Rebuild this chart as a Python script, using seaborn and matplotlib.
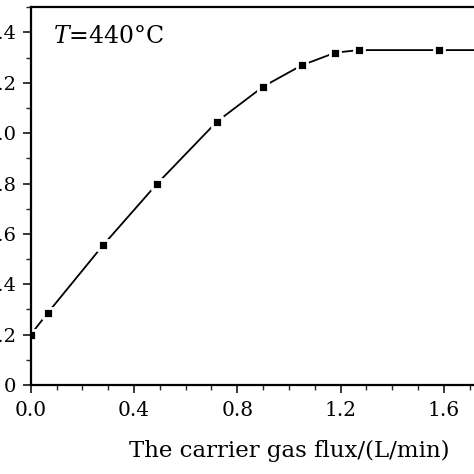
import numpy as np
import pandas as pd
import matplotlib
matplotlib.use("Agg")
import matplotlib.pyplot as plt
from matplotlib.ticker import MultipleLocator, FuncFormatter
import seaborn as sns

# dados (fluxo de gás de arraste vs. resposta)
flux = [0.0, 0.065, 0.28, 0.49, 0.72, 0.90, 1.05, 1.18, 1.27, 1.58, 1.90]
resp = [0.20, 0.285, 0.555, 0.80, 1.045, 1.185, 1.27, 1.32, 1.33, 1.33, 1.33]
x_label = "The carrier gas flux/(L/min)"
annot = r"$T$=440°C"

df = pd.DataFrame({"flux": flux, "resp": resp})

sns.set_style("ticks")
plt.rcParams["font.family"] = ["DejaVu Serif"]
plt.rcParams["mathtext.fontset"] = "dejavuserif"
plt.rcParams["text.color"] = "black"
plt.rcParams["axes.labelcolor"] = "black"

fig = plt.figure(figsize=(4.74, 4.74), dpi=100)
ax = fig.add_axes([0.0648, 0.1878, 1.0897, 0.7968])

sns.lineplot(data=df, x="flux", y="resp", ax=ax, color="black", linewidth=1.3,
             marker="s", markersize=7.8, markerfacecolor="black",
             markeredgecolor="white", markeredgewidth=2.0, sort=False)

ax.set_xlim(0, 2.0)
ax.set_ylim(0, 1.5)
ax.xaxis.set_major_locator(MultipleLocator(0.4))
ax.xaxis.set_minor_locator(MultipleLocator(0.1))
ax.yaxis.set_major_locator(MultipleLocator(0.2))
ax.yaxis.set_minor_locator(MultipleLocator(0.1))
ax.xaxis.set_major_formatter(FuncFormatter(lambda v, p: f"{v:.1f}"))
ax.yaxis.set_major_formatter(FuncFormatter(lambda v, p: "0" if abs(v) < 1e-9 else f"{v:.1f}"))

ax.tick_params(which="major", direction="out", length=5.8, width=1.1, colors="black")
ax.tick_params(which="minor", direction="out", length=3.5, width=1.0)
ax.tick_params(axis="x", which="major", labelsize=14.5, pad=6)
ax.tick_params(axis="y", which="major", labelsize=14, pad=4.5)
for s in ax.spines.values():
    s.set_visible(True)
    s.set_linewidth(1.6)
    s.set_color("black")

ax.set_xlabel(x_label, fontsize=16.5, labelpad=14)
ax.set_ylabel("")
ax.text(0.043, 0.924, annot, transform=ax.transAxes, fontsize=17,
        ha="left", va="center")

fig.savefig("out.png", dpi=100)
